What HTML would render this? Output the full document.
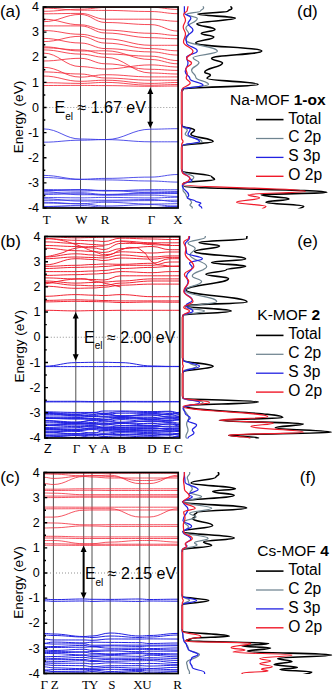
<!DOCTYPE html>
<html><head><meta charset="utf-8"><style>
html,body{margin:0;padding:0;background:#fff;}
svg{display:block;}
</style></head><body>
<svg width="335" height="691" viewBox="0 0 335 691">
<rect width="335" height="691" fill="#fff"/>
<clipPath id="ca"><rect x="43.3" y="7" width="134.8" height="201"/></clipPath>
<g clip-path="url(#ca)">
<line x1="80.5" y1="7" x2="80.5" y2="208" stroke="#505050" stroke-width="1"/>
<line x1="105.5" y1="7" x2="105.5" y2="208" stroke="#505050" stroke-width="1"/>
<line x1="150.8" y1="7" x2="150.8" y2="208" stroke="#505050" stroke-width="1"/>
<line x1="46.3" y1="107.5" x2="178.1" y2="107.5" stroke="#777" stroke-width="0.8" stroke-dasharray="1 2"/>
<g fill="none" stroke="#f42a3a" stroke-width="0.85">
<path d="M43.3 8.1 C58.92 8.1 64.88 10.2 80.5 10.2 C91 10.2 95 10.4 105.5 10.4 C124.53 10.4 131.77 11.5 150.8 11.5 C162.27 11.5 166.63 13.7 178.1 13.7"/>
<path d="M43.3 11.3 C58.92 11.3 64.88 9.2 80.5 9.2 C91 9.2 95 7.5 105.5 7.5 C124.53 7.5 131.77 7.2 150.8 7.2 C162.27 7.2 166.63 9.4 178.1 9.4"/>
<path d="M43.3 13.8 C58.92 13.8 64.88 13.4 80.5 13.4 C91 13.4 95 19.2 105.5 19.2 C124.53 19.2 131.77 19.2 150.8 19.2 C162.27 19.2 166.63 21.3 178.1 21.3"/>
<path d="M43.3 19.2 C58.92 19.2 64.88 24.8 80.5 24.8 C91 24.8 95 30.1 105.5 30.1 C124.53 30.1 131.77 33.3 150.8 33.3 C162.27 33.3 166.63 35.5 178.1 35.5"/>
<path d="M43.3 21.7 C58.92 21.7 64.88 14.4 80.5 14.4 C91 14.4 95 22.5 105.5 22.5 C124.53 22.5 131.77 24.6 150.8 24.6 C162.27 24.6 166.63 31.1 178.1 31.1"/>
<path d="M43.3 25.9 C58.92 25.9 64.88 25.9 80.5 25.9 C91 25.9 95 33 105.5 33 C124.53 33 131.77 37.7 150.8 37.7 C162.27 37.7 166.63 38.8 178.1 38.8"/>
<path d="M43.3 30.5 C58.92 30.5 64.88 34.3 80.5 34.3 C91 34.3 95 38.8 105.5 38.8 C124.53 38.8 131.77 45.3 150.8 45.3 C162.27 45.3 166.63 45.3 178.1 45.3"/>
<path d="M43.3 38.4 C58.92 38.4 64.88 43 80.5 43 C91 43 95 48.6 105.5 48.6 C124.53 48.6 131.77 51.9 150.8 51.9 C162.27 51.9 166.63 55.1 178.1 55.1"/>
<path d="M43.3 41.6 C58.92 41.6 64.88 36.3 80.5 36.3 C91 36.3 95 43.1 105.5 43.1 C124.53 43.1 131.77 48.6 150.8 48.6 C162.27 48.6 166.63 50.8 178.1 50.8"/>
<path d="M43.3 46.8 C58.92 46.8 64.88 51 80.5 51 C91 51 95 50.8 105.5 50.8 C124.53 50.8 131.77 59.5 150.8 59.5 C162.27 59.5 166.63 63.8 178.1 63.8"/>
<path d="M43.3 47.8 C58.92 47.8 64.88 49.9 80.5 49.9 C91 49.9 95 54 105.5 54 C124.53 54 131.77 56.2 150.8 56.2 C162.27 56.2 166.63 60.6 178.1 60.6"/>
<path d="M43.3 49.9 C58.92 49.9 64.88 54.1 80.5 54.1 C91 54.1 95 57.3 105.5 57.3 C124.53 57.3 131.77 73 150.8 73 C162.27 73 166.63 74 178.1 74"/>
<path d="M43.3 53.1 C58.92 53.1 64.88 66.6 80.5 66.6 C91 66.6 95 69 105.5 69 C124.53 69 131.77 64.9 150.8 64.9 C162.27 64.9 166.63 67 178.1 67"/>
<path d="M43.3 61 C58.92 61 64.88 58.3 80.5 58.3 C91 58.3 95 63.8 105.5 63.8 C124.53 63.8 131.77 69.3 150.8 69.3 C162.27 69.3 166.63 70.4 178.1 70.4"/>
<path d="M43.3 67.3 C58.92 67.3 64.88 77.1 80.5 77.1 C91 77.1 95 74.7 105.5 74.7 C124.53 74.7 131.77 76.9 150.8 76.9 C162.27 76.9 166.63 76.9 178.1 76.9"/>
<path d="M43.3 71.9 C58.92 71.9 64.88 74 80.5 74 C91 74 95 78 105.5 78 C124.53 78 131.77 80.2 150.8 80.2 C162.27 80.2 166.63 80.2 178.1 80.2"/>
<path d="M43.3 76 C58.92 76 64.88 81.3 80.5 81.3 C91 81.3 95 80.2 105.5 80.2 C124.53 80.2 131.77 83.4 150.8 83.4 C162.27 83.4 166.63 82.5 178.1 82.5"/>
<path d="M43.3 82.7 C58.92 82.7 64.88 83.4 80.5 83.4 C91 83.4 95 82.4 105.5 82.4 C124.53 82.4 131.77 85.2 150.8 85.2 C162.27 85.2 166.63 84.5 178.1 84.5"/>
<path d="M43.3 85.5 C58.92 85.5 64.88 85.4 80.5 85.4 C91 85.4 95 85.6 105.5 85.6 C124.53 85.6 131.77 86.3 150.8 86.3 C162.27 86.3 166.63 86 178.1 86"/>
</g>
<g fill="none" stroke="#3535e6" stroke-width="0.85">
<path d="M43.3 128.9 C58.92 128.9 64.88 139 80.5 139 C91 139 95 139.6 105.5 139.6 C124.53 139.6 131.77 129.2 150.8 129.2 C162.27 129.2 166.63 128.7 178.1 128.7"/>
<path d="M43.3 142.2 C58.92 142.2 64.88 140.2 80.5 140.2 C91 140.2 95 139.6 105.5 139.6 C124.53 139.6 131.77 141.8 150.8 141.8 C162.27 141.8 166.63 141.8 178.1 141.8"/>
<path d="M43.3 175.4 C58.92 175.4 64.88 179.2 80.5 179.2 C91 179.2 95 178.4 105.5 178.4 C124.53 178.4 131.77 177.1 150.8 177.1 C162.27 177.1 166.63 174.5 178.1 174.5"/>
<path d="M43.3 177.5 C58.92 177.5 64.88 179.5 80.5 179.5 C91 179.5 95 179.9 105.5 179.9 C124.53 179.9 131.77 181 150.8 181 C162.27 181 166.63 182.1 178.1 182.1"/>
<path d="M43.3 189.55 C58.92 189.55 64.88 189.89 80.5 189.89 C91 189.89 95 191.06 105.5 191.06 C124.53 191.06 131.77 189.59 150.8 189.59 C162.27 189.59 166.63 189.73 178.1 189.73"/>
<path d="M43.3 190.78 C58.92 190.78 64.88 189.49 80.5 189.49 C91 189.49 95 190.54 105.5 190.54 C124.53 190.54 131.77 190.92 150.8 190.92 C162.27 190.92 166.63 191.44 178.1 191.44"/>
<path d="M43.3 190.4 C58.92 190.4 64.88 191.07 80.5 191.07 C91 191.07 95 190.39 105.5 190.39 C124.53 190.39 131.77 192.69 150.8 192.69 C162.27 192.69 166.63 192.32 178.1 192.32"/>
<path d="M43.3 191.73 C58.92 191.73 64.88 194.74 80.5 194.74 C91 194.74 95 194.69 105.5 194.69 C124.53 194.69 131.77 193.69 150.8 193.69 C162.27 193.69 166.63 193.57 178.1 193.57"/>
<path d="M43.3 193.2 C58.92 193.2 64.88 192.75 80.5 192.75 C91 192.75 95 194.39 105.5 194.39 C124.53 194.39 131.77 192.89 150.8 192.89 C162.27 192.89 166.63 193.31 178.1 193.31"/>
<path d="M43.3 194.47 C58.92 194.47 64.88 193.8 80.5 193.8 C91 193.8 95 195.18 105.5 195.18 C124.53 195.18 131.77 195.11 150.8 195.11 C162.27 195.11 166.63 196.4 178.1 196.4"/>
<path d="M43.3 197.46 C58.92 197.46 64.88 197.85 80.5 197.85 C91 197.85 95 197.4 105.5 197.4 C124.53 197.4 131.77 197.92 150.8 197.92 C162.27 197.92 166.63 197.26 178.1 197.26"/>
<path d="M43.3 198.79 C58.92 198.79 64.88 201.09 80.5 201.09 C91 201.09 95 201.09 105.5 201.09 C124.53 201.09 131.77 200.59 150.8 200.59 C162.27 200.59 166.63 200.16 178.1 200.16"/>
<path d="M43.3 200.31 C58.92 200.31 64.88 200.03 80.5 200.03 C91 200.03 95 200.22 105.5 200.22 C124.53 200.22 131.77 199.52 150.8 199.52 C162.27 199.52 166.63 201.75 178.1 201.75"/>
<path d="M43.3 202.28 C58.92 202.28 64.88 203.71 80.5 203.71 C91 203.71 95 202.24 105.5 202.24 C124.53 202.24 131.77 204.07 150.8 204.07 C162.27 204.07 166.63 203.71 178.1 203.71"/>
<path d="M43.3 203.1 C58.92 203.1 64.88 203.77 80.5 203.77 C91 203.77 95 206.01 105.5 206.01 C124.53 206.01 131.77 204.6 150.8 204.6 C162.27 204.6 166.63 206.24 178.1 206.24"/>
<path d="M43.3 206.47 C58.92 206.47 64.88 205.43 80.5 205.43 C91 205.43 95 207.21 105.5 207.21 C124.53 207.21 131.77 207.69 150.8 207.69 C162.27 207.69 166.63 206.06 178.1 206.06"/>
<path d="M43.3 206.48 C58.92 206.48 64.88 207.26 80.5 207.26 C91 207.26 95 208.5 105.5 208.5 C124.53 208.5 131.77 208.5 150.8 208.5 C162.27 208.5 166.63 206.58 178.1 206.58"/>
</g>
</g>
<rect x="43.3" y="7" width="134.8" height="201" fill="none" stroke="#000" stroke-width="1.7"/>
<path d="M43.3 7h3.2 M43.3 19.56h2 M43.3 32.12h3.2 M43.3 44.69h2 M43.3 57.25h3.2 M43.3 69.81h2 M43.3 82.38h3.2 M43.3 94.94h2 M43.3 107.5h3.2 M43.3 120.06h2 M43.3 132.62h3.2 M43.3 145.19h2 M43.3 157.75h3.2 M43.3 170.31h2 M43.3 182.88h3.2 M43.3 195.44h2 M43.3 208h3.2" stroke="#000" stroke-width="1.4" fill="none"/>
<text x="39" y="11.2" text-anchor="end" font-family='"Liberation Sans", sans-serif' font-size="12.5">4</text>
<text x="39" y="36.33" text-anchor="end" font-family='"Liberation Sans", sans-serif' font-size="12.5">3</text>
<text x="39" y="61.45" text-anchor="end" font-family='"Liberation Sans", sans-serif' font-size="12.5">2</text>
<text x="39" y="86.58" text-anchor="end" font-family='"Liberation Sans", sans-serif' font-size="12.5">1</text>
<text x="39" y="111.7" text-anchor="end" font-family='"Liberation Sans", sans-serif' font-size="12.5">0</text>
<text x="39" y="136.82" text-anchor="end" font-family='"Liberation Sans", sans-serif' font-size="12.5">-1</text>
<text x="39" y="161.95" text-anchor="end" font-family='"Liberation Sans", sans-serif' font-size="12.5">-2</text>
<text x="39" y="187.07" text-anchor="end" font-family='"Liberation Sans", sans-serif' font-size="12.5">-3</text>
<text x="39" y="212.2" text-anchor="end" font-family='"Liberation Sans", sans-serif' font-size="12.5">-4</text>
<text transform="translate(22.7 117) rotate(-90)" text-anchor="middle" font-family='"Liberation Sans", sans-serif' font-size="13.6">Energy (eV)</text>
<text x="46.7" y="224" text-anchor="middle" font-family='"Liberation Serif", serif' font-size="13">T</text>
<text x="81.4" y="224" text-anchor="middle" font-family='"Liberation Serif", serif' font-size="13">W</text>
<text x="105" y="224" text-anchor="middle" font-family='"Liberation Serif", serif' font-size="13">R</text>
<text x="151.5" y="224" text-anchor="middle" font-family='"Liberation Serif", serif' font-size="13">Γ</text>
<text x="178" y="224" text-anchor="middle" font-family='"Liberation Serif", serif' font-size="13">X</text>
<text x="-0.1" y="17" font-family='"Liberation Sans", sans-serif' font-size="17">(a)</text>
<line x1="150.3" y1="92.4" x2="150.3" y2="123.2" stroke="#000" stroke-width="1.9"/>
<path d="M150.3 87.4 l-3 6.5 h6 z M150.3 128.2 l-3 -6.5 h6 z" fill="#000"/>
<text x="54.5" y="113.3" font-family='"Liberation Sans", sans-serif' font-size="16">E<tspan font-size="10" dy="6.3">el</tspan><tspan dy="-6.3"> ≈ 1.67 eV</tspan></text>
<clipPath id="cb"><rect x="44.8" y="236.5" width="134.9" height="201.5"/></clipPath>
<g clip-path="url(#cb)">
<line x1="75.8" y1="236.5" x2="75.8" y2="438" stroke="#505050" stroke-width="1"/>
<line x1="93.7" y1="236.5" x2="93.7" y2="438" stroke="#505050" stroke-width="1"/>
<line x1="103.8" y1="236.5" x2="103.8" y2="438" stroke="#505050" stroke-width="1"/>
<line x1="120.7" y1="236.5" x2="120.7" y2="438" stroke="#505050" stroke-width="1"/>
<line x1="152.4" y1="236.5" x2="152.4" y2="438" stroke="#505050" stroke-width="1"/>
<line x1="169.9" y1="236.5" x2="169.9" y2="438" stroke="#505050" stroke-width="1"/>
<line x1="47.8" y1="337.25" x2="179.7" y2="337.25" stroke="#777" stroke-width="0.8" stroke-dasharray="1 2"/>
<g fill="none" stroke="#f01a2a" stroke-width="0.95">
<path d="M44.8 236.5 C57.82 236.5 62.78 237.8 75.8 237.8 C83.32 237.8 86.18 237.5 93.7 237.5 C97.94 237.5 99.56 237.2 103.8 237.2 C110.9 237.2 113.6 237.1 120.7 237.1 C134.01 237.1 139.09 237.1 152.4 237.1 C159.75 237.1 162.55 237.1 169.9 237.1 C174.02 237.1 175.58 237.1 179.7 237.1"/>
<path d="M44.8 238.6 C57.82 238.6 62.78 240.3 75.8 240.3 C83.32 240.3 86.18 240.8 93.7 240.8 C97.94 240.8 99.56 241.5 103.8 241.5 C110.9 241.5 113.6 238.2 120.7 238.2 C134.01 238.2 139.09 239 152.4 239 C159.75 239 162.55 239.5 169.9 239.5 C174.02 239.5 175.58 239.5 179.7 239.5"/>
<path d="M44.8 241.9 C57.82 241.9 62.78 243.4 75.8 243.4 C83.32 243.4 86.18 244.5 93.7 244.5 C97.94 244.5 99.56 245.2 103.8 245.2 C110.9 245.2 113.6 241 120.7 241 C134.01 241 139.09 242.8 152.4 242.8 C159.75 242.8 162.55 242.8 169.9 242.8 C174.02 242.8 175.58 242.8 179.7 242.8"/>
<path d="M44.8 245.5 C57.82 245.5 62.78 246.5 75.8 246.5 C83.32 246.5 86.18 248 93.7 248 C97.94 248 99.56 249.5 103.8 249.5 C110.9 249.5 113.6 243.4 120.7 243.4 C134.01 243.4 139.09 243.4 152.4 243.4 C159.75 243.4 162.55 245.5 169.9 245.5 C174.02 245.5 175.58 245.5 179.7 245.5"/>
<path d="M44.8 248.2 C57.82 248.2 62.78 250.7 75.8 250.7 C83.32 250.7 86.18 251.5 93.7 251.5 C97.94 251.5 99.56 252.5 103.8 252.5 C110.9 252.5 113.6 248.6 120.7 248.6 C134.01 248.6 139.09 246.5 152.4 246.5 C159.75 246.5 162.55 249.7 169.9 249.7 C174.02 249.7 175.58 249.7 179.7 249.7"/>
<path d="M44.8 257 C57.82 257 62.78 253.8 75.8 253.8 C83.32 253.8 86.18 255 93.7 255 C97.94 255 99.56 256 103.8 256 C110.9 256 113.6 251.8 120.7 251.8 C134.01 251.8 139.09 253 152.4 253 C159.75 253 162.55 252 169.9 252 C174.02 252 175.58 252 179.7 252"/>
<path d="M44.8 258.7 C57.82 258.7 62.78 257 75.8 257 C83.32 257 86.18 257.5 93.7 257.5 C97.94 257.5 99.56 258 103.8 258 C110.9 258 113.6 255 120.7 255 C134.01 255 139.09 257 152.4 257 C159.75 257 162.55 255.9 169.9 255.9 C174.02 255.9 175.58 255.9 179.7 255.9"/>
<path d="M44.8 264.9 C57.82 264.9 62.78 258.7 75.8 258.7 C83.32 258.7 86.18 259.5 93.7 259.5 C97.94 259.5 99.56 260.5 103.8 260.5 C110.9 260.5 113.6 258 120.7 258 C134.01 258 139.09 259.1 152.4 259.1 C159.75 259.1 162.55 257.4 169.9 257.4 C174.02 257.4 175.58 257.4 179.7 257.4"/>
<path d="M44.8 266.4 C57.82 266.4 62.78 265.3 75.8 265.3 C83.32 265.3 86.18 264.5 93.7 264.5 C97.94 264.5 99.56 264 103.8 264 C110.9 264 113.6 264.3 120.7 264.3 C134.01 264.3 139.09 263.3 152.4 263.3 C159.75 263.3 162.55 258.7 169.9 258.7 C174.02 258.7 175.58 258.7 179.7 258.7"/>
<path d="M44.8 268.5 C57.82 268.5 62.78 267.4 75.8 267.4 C83.32 267.4 86.18 267 93.7 267 C97.94 267 99.56 266.5 103.8 266.5 C110.9 266.5 113.6 265.3 120.7 265.3 C134.01 265.3 139.09 265.3 152.4 265.3 C159.75 265.3 162.55 262 169.9 262 C174.02 262 175.58 262 179.7 262"/>
<path d="M44.8 271.6 C57.82 271.6 62.78 271.6 75.8 271.6 C83.32 271.6 86.18 271 93.7 271 C97.94 271 99.56 270.5 103.8 270.5 C110.9 270.5 113.6 268.5 120.7 268.5 C134.01 268.5 139.09 267.4 152.4 267.4 C159.75 267.4 162.55 266.4 169.9 266.4 C174.02 266.4 175.58 266.4 179.7 266.4"/>
<path d="M44.8 275.4 C57.82 275.4 62.78 274.7 75.8 274.7 C83.32 274.7 86.18 274 93.7 274 C97.94 274 99.56 273.5 103.8 273.5 C110.9 273.5 113.6 271.6 120.7 271.6 C134.01 271.6 139.09 272.7 152.4 272.7 C159.75 272.7 162.55 271.6 169.9 271.6 C174.02 271.6 175.58 271.6 179.7 271.6"/>
<path d="M44.8 277.9 C57.82 277.9 62.78 278.9 75.8 278.9 C83.32 278.9 86.18 279.5 93.7 279.5 C97.94 279.5 99.56 280 103.8 280 C110.9 280 113.6 275.8 120.7 275.8 C134.01 275.8 139.09 275.8 152.4 275.8 C159.75 275.8 162.55 275.8 169.9 275.8 C174.02 275.8 175.58 275.8 179.7 275.8"/>
<path d="M44.8 281 C57.82 281 62.78 283.1 75.8 283.1 C83.32 283.1 86.18 282.5 93.7 282.5 C97.94 282.5 99.56 282 103.8 282 C110.9 282 113.6 281 120.7 281 C134.01 281 139.09 278.9 152.4 278.9 C159.75 278.9 162.55 278.9 169.9 278.9 C174.02 278.9 175.58 278.9 179.7 278.9"/>
<path d="M44.8 282.5 C57.82 282.5 62.78 285.2 75.8 285.2 C83.32 285.2 86.18 285.8 93.7 285.8 C97.94 285.8 99.56 285.5 103.8 285.5 C110.9 285.5 113.6 283.1 120.7 283.1 C134.01 283.1 139.09 281 152.4 281 C159.75 281 162.55 281 169.9 281 C174.02 281 175.58 281 179.7 281"/>
<path d="M44.8 286.2 C57.82 286.2 62.78 288.3 75.8 288.3 C83.32 288.3 86.18 288 93.7 288 C97.94 288 99.56 287.2 103.8 287.2 C110.9 287.2 113.6 285.2 120.7 285.2 C134.01 285.2 139.09 284.1 152.4 284.1 C159.75 284.1 162.55 284.1 169.9 284.1 C174.02 284.1 175.58 284.1 179.7 284.1"/>
<path d="M44.8 296.3 C57.82 296.3 62.78 294.6 75.8 294.6 C83.32 294.6 86.18 295.2 93.7 295.2 C97.94 295.2 99.56 295.5 103.8 295.5 C110.9 295.5 113.6 294.6 120.7 294.6 C134.01 294.6 139.09 296.7 152.4 296.7 C159.75 296.7 162.55 296.7 169.9 296.7 C174.02 296.7 175.58 296.7 179.7 296.7"/>
<path d="M44.8 300.4 C57.82 300.4 62.78 299.8 75.8 299.8 C83.32 299.8 86.18 300.2 93.7 300.2 C97.94 300.2 99.56 300.5 103.8 300.5 C110.9 300.5 113.6 300.9 120.7 300.9 C134.01 300.9 139.09 300.9 152.4 300.9 C159.75 300.9 162.55 300.9 169.9 300.9 C174.02 300.9 175.58 300.9 179.7 300.9"/>
<path d="M44.8 301.9 C57.82 301.9 62.78 301.3 75.8 301.3 C83.32 301.3 86.18 301.6 93.7 301.6 C97.94 301.6 99.56 301.8 103.8 301.8 C110.9 301.8 113.6 302.5 120.7 302.5 C134.01 302.5 139.09 302 152.4 302 C159.75 302 162.55 302.2 169.9 302.2 C174.02 302.2 175.58 302.2 179.7 302.2"/>
<path d="M44.8 310.3 C57.82 310.3 62.78 310.9 75.8 310.9 C83.32 310.9 86.18 310.6 93.7 310.6 C97.94 310.6 99.56 310.5 103.8 310.5 C110.9 310.5 113.6 310.3 120.7 310.3 C134.01 310.3 139.09 310.3 152.4 310.3 C159.75 310.3 162.55 310.3 169.9 310.3 C174.02 310.3 175.58 310.3 179.7 310.3"/>
<path d="M44.8 257 C49.36 255.95 50.7 256.14 60 253.5 C69.3 250.86 65.69 250.3 75.8 248.2 C85.91 246.1 85.3 247.1 93.7 246.5 C102.1 245.9 100.77 246.29 103.8 246.2"/>
<path d="M44.8 239 C48.31 239.15 47.2 237.85 56.5 239.5 C65.8 241.15 64.64 240.9 75.8 244.5 C86.96 248.1 84.04 248.5 93.7 251.5 C103.36 254.5 99.9 254.95 108 254.5 C116.1 254.05 113.5 252.1 120.7 250 C127.9 247.9 125.31 247.05 132 247.5 C138.69 247.95 136.88 247.15 143 251.5 C149.12 255.85 145.8 257.8 152.4 262 C159 266.2 156.81 264.3 165 265.5 C173.19 266.7 175.29 265.85 179.7 266"/>
<path d="M120.7 241.2 C125.29 241.74 126.49 241.95 136 243 C145.51 244.05 142.23 244.19 152.4 244.7 C162.57 245.21 164.65 244.7 169.9 244.7"/>
<path d="M44.8 284 C54.1 282.5 61.13 279.9 75.8 279 C90.47 278.1 85.3 279.8 93.7 281 C102.1 282.2 95.7 281.2 103.8 283 C111.9 284.8 115.63 285.8 120.7 287"/>
</g>
<g fill="none" stroke="#2222e2" stroke-width="1.0">
<path d="M44.8 366.2 C57.82 366.2 62.78 362.6 75.8 362.6 C83.32 362.6 86.18 362.3 93.7 362.3 C97.94 362.3 99.56 362.3 103.8 362.3 C110.9 362.3 113.6 362.6 120.7 362.6 C134.01 362.6 139.09 366 152.4 366 C159.75 366 162.55 366.4 169.9 366.4 C174.02 366.4 175.58 366.4 179.7 366.4"/>
<path d="M44.8 366.6 C57.82 366.6 62.78 366.6 75.8 366.6 C83.32 366.6 86.18 366.6 93.7 366.6 C97.94 366.6 99.56 366.6 103.8 366.6 C110.9 366.6 113.6 366.6 120.7 366.6 C134.01 366.6 139.09 366.6 152.4 366.6 C159.75 366.6 162.55 366.6 169.9 366.6 C174.02 366.6 175.58 366.6 179.7 366.6"/>
<path d="M44.8 401.3 C57.82 401.3 62.78 401.3 75.8 401.3 C83.32 401.3 86.18 401.5 93.7 401.5 C97.94 401.5 99.56 401.5 103.8 401.5 C110.9 401.5 113.6 401.4 120.7 401.4 C134.01 401.4 139.09 401.4 152.4 401.4 C159.75 401.4 162.55 401.5 169.9 401.5 C174.02 401.5 175.58 401.5 179.7 401.5"/>
<path d="M44.8 401.9 C57.82 401.9 62.78 401.9 75.8 401.9 C83.32 401.9 86.18 402 93.7 402 C97.94 402 99.56 402 103.8 402 C110.9 402 113.6 401.9 120.7 401.9 C134.01 401.9 139.09 402 152.4 402 C159.75 402 162.55 401.9 169.9 401.9 C174.02 401.9 175.58 401.9 179.7 401.9"/>
<path d="M44.8 411.86 C57.82 411.86 62.78 412.41 75.8 412.41 C83.32 412.41 86.18 412.43 93.7 412.43 C97.94 412.43 99.56 411 103.8 411 C110.9 411 113.6 411 120.7 411 C134.01 411 139.09 411.56 152.4 411.56 C159.75 411.56 162.55 411.26 169.9 411.26 C174.02 411.26 175.58 412.86 179.7 412.86"/>
<path d="M44.8 413.37 C57.82 413.37 62.78 413.1 75.8 413.1 C83.32 413.1 86.18 412.97 93.7 412.97 C97.94 412.97 99.56 413.28 103.8 413.28 C110.9 413.28 113.6 411.74 120.7 411.74 C134.01 411.74 139.09 412.62 152.4 412.62 C159.75 412.62 162.55 411.79 169.9 411.79 C174.02 411.79 175.58 414.02 179.7 414.02"/>
<path d="M44.8 412.34 C57.82 412.34 62.78 414.62 75.8 414.62 C83.32 414.62 86.18 412.39 93.7 412.39 C97.94 412.39 99.56 414.23 103.8 414.23 C110.9 414.23 113.6 413.18 120.7 413.18 C134.01 413.18 139.09 413.38 152.4 413.38 C159.75 413.38 162.55 414.69 169.9 414.69 C174.02 414.69 175.58 412.22 179.7 412.22"/>
<path d="M44.8 413.22 C57.82 413.22 62.78 415.78 75.8 415.78 C83.32 415.78 86.18 414.56 93.7 414.56 C97.94 414.56 99.56 413.31 103.8 413.31 C110.9 413.31 113.6 415.99 120.7 415.99 C134.01 415.99 139.09 415.87 152.4 415.87 C159.75 415.87 162.55 413.37 169.9 413.37 C174.02 413.37 175.58 414.3 179.7 414.3"/>
<path d="M44.8 414.31 C57.82 414.31 62.78 414.84 75.8 414.84 C83.32 414.84 86.18 415.76 93.7 415.76 C97.94 415.76 99.56 414.39 103.8 414.39 C110.9 414.39 113.6 415.99 120.7 415.99 C134.01 415.99 139.09 414.05 152.4 414.05 C159.75 414.05 162.55 414.41 169.9 414.41 C174.02 414.41 175.58 416.35 179.7 416.35"/>
<path d="M44.8 415.97 C57.82 415.97 62.78 416.02 75.8 416.02 C83.32 416.02 86.18 416.55 93.7 416.55 C97.94 416.55 99.56 416.2 103.8 416.2 C110.9 416.2 113.6 415.92 120.7 415.92 C134.01 415.92 139.09 414.86 152.4 414.86 C159.75 414.86 162.55 416.95 169.9 416.95 C174.02 416.95 175.58 417.67 179.7 417.67"/>
<path d="M44.8 418.56 C57.82 418.56 62.78 417.62 75.8 417.62 C83.32 417.62 86.18 416.7 93.7 416.7 C97.94 416.7 99.56 416.72 103.8 416.72 C110.9 416.72 113.6 417.7 120.7 417.7 C134.01 417.7 139.09 417.65 152.4 417.65 C159.75 417.65 162.55 415.97 169.9 415.97 C174.02 415.97 175.58 416.34 179.7 416.34"/>
<path d="M44.8 417.59 C57.82 417.59 62.78 418.03 75.8 418.03 C83.32 418.03 86.18 418.93 93.7 418.93 C97.94 418.93 99.56 418 103.8 418 C110.9 418 113.6 416.58 120.7 416.58 C134.01 416.58 139.09 418.97 152.4 418.97 C159.75 418.97 162.55 417.79 169.9 417.79 C174.02 417.79 175.58 418.06 179.7 418.06"/>
<path d="M44.8 418.03 C57.82 418.03 62.78 418.65 75.8 418.65 C83.32 418.65 86.18 418.53 93.7 418.53 C97.94 418.53 99.56 419.68 103.8 419.68 C110.9 419.68 113.6 417.67 120.7 417.67 C134.01 417.67 139.09 419.02 152.4 419.02 C159.75 419.02 162.55 417.9 169.9 417.9 C174.02 417.9 175.58 419.45 179.7 419.45"/>
<path d="M44.8 418.34 C57.82 418.34 62.78 419.06 75.8 419.06 C83.32 419.06 86.18 419.27 93.7 419.27 C97.94 419.27 99.56 420.14 103.8 420.14 C110.9 420.14 113.6 418.39 120.7 418.39 C134.01 418.39 139.09 419.61 152.4 419.61 C159.75 419.61 162.55 418.86 169.9 418.86 C174.02 418.86 175.58 419.08 179.7 419.08"/>
<path d="M44.8 420.53 C57.82 420.53 62.78 421.98 75.8 421.98 C83.32 421.98 86.18 420.54 93.7 420.54 C97.94 420.54 99.56 421.97 103.8 421.97 C110.9 421.97 113.6 419.6 120.7 419.6 C134.01 419.6 139.09 421.87 152.4 421.87 C159.75 421.87 162.55 420.19 169.9 420.19 C174.02 420.19 175.58 419.67 179.7 419.67"/>
<path d="M44.8 422.21 C57.82 422.21 62.78 422.7 75.8 422.7 C83.32 422.7 86.18 419.99 93.7 419.99 C97.94 419.99 99.56 420.77 103.8 420.77 C110.9 420.77 113.6 422.28 120.7 422.28 C134.01 422.28 139.09 420.99 152.4 420.99 C159.75 420.99 162.55 420.69 169.9 420.69 C174.02 420.69 175.58 419.99 179.7 419.99"/>
<path d="M44.8 420.95 C57.82 420.95 62.78 422.69 75.8 422.69 C83.32 422.69 86.18 423.78 93.7 423.78 C97.94 423.78 99.56 423.83 103.8 423.83 C110.9 423.83 113.6 422.34 120.7 422.34 C134.01 422.34 139.09 420.91 152.4 420.91 C159.75 420.91 162.55 421.8 169.9 421.8 C174.02 421.8 175.58 423.2 179.7 423.2"/>
<path d="M44.8 424.2 C57.82 424.2 62.78 423.62 75.8 423.62 C83.32 423.62 86.18 422.39 93.7 422.39 C97.94 422.39 99.56 423.28 103.8 423.28 C110.9 423.28 113.6 423.13 120.7 423.13 C134.01 423.13 139.09 423.58 152.4 423.58 C159.75 423.58 162.55 422.49 169.9 422.49 C174.02 422.49 175.58 424.54 179.7 424.54"/>
<path d="M44.8 425.25 C57.82 425.25 62.78 423.05 75.8 423.05 C83.32 423.05 86.18 423.44 93.7 423.44 C97.94 423.44 99.56 425.19 103.8 425.19 C110.9 425.19 113.6 423.4 120.7 423.4 C134.01 423.4 139.09 425.4 152.4 425.4 C159.75 425.4 162.55 424.11 169.9 424.11 C174.02 424.11 175.58 424.65 179.7 424.65"/>
<path d="M44.8 425.55 C57.82 425.55 62.78 424.08 75.8 424.08 C83.32 424.08 86.18 424.29 93.7 424.29 C97.94 424.29 99.56 424.2 103.8 424.2 C110.9 424.2 113.6 425.48 120.7 425.48 C134.01 425.48 139.09 425.52 152.4 425.52 C159.75 425.52 162.55 423.83 169.9 423.83 C174.02 423.83 175.58 426.09 179.7 426.09"/>
<path d="M44.8 425.56 C57.82 425.56 62.78 425.02 75.8 425.02 C83.32 425.02 86.18 425.61 93.7 425.61 C97.94 425.61 99.56 427.24 103.8 427.24 C110.9 427.24 113.6 425.98 120.7 425.98 C134.01 425.98 139.09 426.17 152.4 426.17 C159.75 426.17 162.55 427.06 169.9 427.06 C174.02 427.06 175.58 427.19 179.7 427.19"/>
<path d="M44.8 427.45 C57.82 427.45 62.78 426.42 75.8 426.42 C83.32 426.42 86.18 426.93 93.7 426.93 C97.94 426.93 99.56 427.87 103.8 427.87 C110.9 427.87 113.6 427.53 120.7 427.53 C134.01 427.53 139.09 426.91 152.4 426.91 C159.75 426.91 162.55 426.21 169.9 426.21 C174.02 426.21 175.58 426.27 179.7 426.27"/>
<path d="M44.8 428.24 C57.82 428.24 62.78 427.72 75.8 427.72 C83.32 427.72 86.18 426.08 93.7 426.08 C97.94 426.08 99.56 428.16 103.8 428.16 C110.9 428.16 113.6 428.74 120.7 428.74 C134.01 428.74 139.09 428.43 152.4 428.43 C159.75 428.43 162.55 428.73 169.9 428.73 C174.02 428.73 175.58 428.76 179.7 428.76"/>
<path d="M44.8 428.5 C57.82 428.5 62.78 429.27 75.8 429.27 C83.32 429.27 86.18 428.04 93.7 428.04 C97.94 428.04 99.56 427.19 103.8 427.19 C110.9 427.19 113.6 427.96 120.7 427.96 C134.01 427.96 139.09 427.84 152.4 427.84 C159.75 427.84 162.55 429.7 169.9 429.7 C174.02 429.7 175.58 428.97 179.7 428.97"/>
<path d="M44.8 429.39 C57.82 429.39 62.78 429.63 75.8 429.63 C83.32 429.63 86.18 428.14 93.7 428.14 C97.94 428.14 99.56 429.37 103.8 429.37 C110.9 429.37 113.6 429.87 120.7 429.87 C134.01 429.87 139.09 428.95 152.4 428.95 C159.75 428.95 162.55 428.5 169.9 428.5 C174.02 428.5 175.58 428.99 179.7 428.99"/>
<path d="M44.8 429.6 C57.82 429.6 62.78 430.69 75.8 430.69 C83.32 430.69 86.18 429.06 93.7 429.06 C97.94 429.06 99.56 428.9 103.8 428.9 C110.9 428.9 113.6 429.57 120.7 429.57 C134.01 429.57 139.09 430.72 152.4 430.72 C159.75 430.72 162.55 430.91 169.9 430.91 C174.02 430.91 175.58 430.61 179.7 430.61"/>
<path d="M44.8 432.3 C57.82 432.3 62.78 430.6 75.8 430.6 C83.32 430.6 86.18 429.59 93.7 429.59 C97.94 429.59 99.56 430.96 103.8 430.96 C110.9 430.96 113.6 430.83 120.7 430.83 C134.01 430.83 139.09 430.04 152.4 430.04 C159.75 430.04 162.55 431.5 169.9 431.5 C174.02 431.5 175.58 430.52 179.7 430.52"/>
<path d="M44.8 431.08 C57.82 431.08 62.78 431.35 75.8 431.35 C83.32 431.35 86.18 433.2 93.7 433.2 C97.94 433.2 99.56 430.39 103.8 430.39 C110.9 430.39 113.6 431.45 120.7 431.45 C134.01 431.45 139.09 431.21 152.4 431.21 C159.75 431.21 162.55 430.97 169.9 430.97 C174.02 430.97 175.58 431.66 179.7 431.66"/>
<path d="M44.8 431.89 C57.82 431.89 62.78 433.99 75.8 433.99 C83.32 433.99 86.18 432.74 93.7 432.74 C97.94 432.74 99.56 433.33 103.8 433.33 C110.9 433.33 113.6 431.72 120.7 431.72 C134.01 431.72 139.09 432.63 152.4 432.63 C159.75 432.63 162.55 433.05 169.9 433.05 C174.02 433.05 175.58 433.76 179.7 433.76"/>
<path d="M44.8 432.85 C57.82 432.85 62.78 433.48 75.8 433.48 C83.32 433.48 86.18 434.66 93.7 434.66 C97.94 434.66 99.56 434.6 103.8 434.6 C110.9 434.6 113.6 432.78 120.7 432.78 C134.01 432.78 139.09 433.71 152.4 433.71 C159.75 433.71 162.55 434.38 169.9 434.38 C174.02 434.38 175.58 433.29 179.7 433.29"/>
<path d="M44.8 434.99 C57.82 434.99 62.78 434.96 75.8 434.96 C83.32 434.96 86.18 435.88 93.7 435.88 C97.94 435.88 99.56 434.63 103.8 434.63 C110.9 434.63 113.6 435.01 120.7 435.01 C134.01 435.01 139.09 434.02 152.4 434.02 C159.75 434.02 162.55 435.16 169.9 435.16 C174.02 435.16 175.58 433.93 179.7 433.93"/>
<path d="M44.8 435.33 C57.82 435.33 62.78 434.92 75.8 434.92 C83.32 434.92 86.18 434.75 93.7 434.75 C97.94 434.75 99.56 434.24 103.8 434.24 C110.9 434.24 113.6 434.51 120.7 434.51 C134.01 434.51 139.09 435.47 152.4 435.47 C159.75 435.47 162.55 434.59 169.9 434.59 C174.02 434.59 175.58 433.97 179.7 433.97"/>
<path d="M44.8 437.11 C57.82 437.11 62.78 435.56 75.8 435.56 C83.32 435.56 86.18 437.51 93.7 437.51 C97.94 437.51 99.56 436.5 103.8 436.5 C110.9 436.5 113.6 435.87 120.7 435.87 C134.01 435.87 139.09 437.32 152.4 437.32 C159.75 437.32 162.55 437.39 169.9 437.39 C174.02 437.39 175.58 435.66 179.7 435.66"/>
<path d="M44.8 435.94 C57.82 435.94 62.78 437.49 75.8 437.49 C83.32 437.49 86.18 438.09 93.7 438.09 C97.94 438.09 99.56 437.39 103.8 437.39 C110.9 437.39 113.6 437.92 120.7 437.92 C134.01 437.92 139.09 436.8 152.4 436.8 C159.75 436.8 162.55 437.42 169.9 437.42 C174.02 437.42 175.58 436.36 179.7 436.36"/>
</g>
</g>
<rect x="44.8" y="236.5" width="134.9" height="201.5" fill="none" stroke="#000" stroke-width="1.7"/>
<path d="M44.8 236.5h3.2 M44.8 249.09h2 M44.8 261.69h3.2 M44.8 274.28h2 M44.8 286.88h3.2 M44.8 299.47h2 M44.8 312.06h3.2 M44.8 324.66h2 M44.8 337.25h3.2 M44.8 349.84h2 M44.8 362.44h3.2 M44.8 375.03h2 M44.8 387.62h3.2 M44.8 400.22h2 M44.8 412.81h3.2 M44.8 425.41h2 M44.8 438h3.2" stroke="#000" stroke-width="1.4" fill="none"/>
<text x="40.5" y="240.7" text-anchor="end" font-family='"Liberation Sans", sans-serif' font-size="12.5">4</text>
<text x="40.5" y="265.89" text-anchor="end" font-family='"Liberation Sans", sans-serif' font-size="12.5">3</text>
<text x="40.5" y="291.07" text-anchor="end" font-family='"Liberation Sans", sans-serif' font-size="12.5">2</text>
<text x="40.5" y="316.26" text-anchor="end" font-family='"Liberation Sans", sans-serif' font-size="12.5">1</text>
<text x="40.5" y="341.45" text-anchor="end" font-family='"Liberation Sans", sans-serif' font-size="12.5">0</text>
<text x="40.5" y="366.64" text-anchor="end" font-family='"Liberation Sans", sans-serif' font-size="12.5">-1</text>
<text x="40.5" y="391.82" text-anchor="end" font-family='"Liberation Sans", sans-serif' font-size="12.5">-2</text>
<text x="40.5" y="417.01" text-anchor="end" font-family='"Liberation Sans", sans-serif' font-size="12.5">-3</text>
<text x="40.5" y="442.2" text-anchor="end" font-family='"Liberation Sans", sans-serif' font-size="12.5">-4</text>
<text transform="translate(24.3 346.3) rotate(-90)" text-anchor="middle" font-family='"Liberation Sans", sans-serif' font-size="13.6">Energy (eV)</text>
<text x="47.9" y="452.6" text-anchor="middle" font-family='"Liberation Sans", sans-serif' font-size="12.5">Z</text>
<text x="76.5" y="452.6" text-anchor="middle" font-family='"Liberation Serif", serif' font-size="13">Γ</text>
<text x="92.6" y="452.6" text-anchor="middle" font-family='"Liberation Serif", serif' font-size="13">Y</text>
<text x="105" y="452.6" text-anchor="middle" font-family='"Liberation Serif", serif' font-size="13">A</text>
<text x="121.9" y="452.6" text-anchor="middle" font-family='"Liberation Serif", serif' font-size="13">B</text>
<text x="152" y="452.6" text-anchor="middle" font-family='"Liberation Serif", serif' font-size="13">D</text>
<text x="167" y="452.6" text-anchor="middle" font-family='"Liberation Serif", serif' font-size="13">E</text>
<text x="178.6" y="452.6" text-anchor="middle" font-family='"Liberation Serif", serif' font-size="13">C</text>
<text x="0.2" y="247" font-family='"Liberation Sans", sans-serif' font-size="17">(b)</text>
<line x1="75.7" y1="317.1" x2="75.7" y2="355.8" stroke="#000" stroke-width="1.9"/>
<path d="M75.7 312.1 l-3 6.5 h6 z M75.7 360.8 l-3 -6.5 h6 z" fill="#000"/>
<text x="84.1" y="342.5" font-family='"Liberation Sans", sans-serif' font-size="16">E<tspan font-size="10" dy="6.3">el</tspan><tspan dy="-6.3"> ≈ 2.00 eV</tspan></text>
<clipPath id="cc"><rect x="44" y="472.5" width="134.2" height="201"/></clipPath>
<g clip-path="url(#cc)">
<line x1="53.4" y1="472.5" x2="53.4" y2="673.5" stroke="#505050" stroke-width="1"/>
<line x1="83.7" y1="472.5" x2="83.7" y2="673.5" stroke="#505050" stroke-width="1"/>
<line x1="92" y1="472.5" x2="92" y2="673.5" stroke="#505050" stroke-width="1"/>
<line x1="110.2" y1="472.5" x2="110.2" y2="673.5" stroke="#505050" stroke-width="1"/>
<line x1="139.8" y1="472.5" x2="139.8" y2="673.5" stroke="#505050" stroke-width="1"/>
<line x1="149.2" y1="472.5" x2="149.2" y2="673.5" stroke="#505050" stroke-width="1"/>
<line x1="47" y1="573" x2="178.2" y2="573" stroke="#777" stroke-width="0.8" stroke-dasharray="1 2"/>
<g fill="none" stroke="#f32a3a" stroke-width="0.8">
<path d="M44 473.3 C47.95 473.3 49.45 473.3 53.4 473.3 C66.13 473.3 70.97 473.3 83.7 473.3 C87.19 473.3 88.51 473.3 92 473.3 C99.64 473.3 102.56 473.3 110.2 473.3 C122.63 473.3 127.37 473.3 139.8 473.3 C143.75 473.3 145.25 473.3 149.2 473.3 C161.38 473.3 166.02 473.3 178.2 473.3"/>
<path d="M44 473.9 C47.95 473.9 49.45 474.2 53.4 474.2 C66.13 474.2 70.97 475.9 83.7 475.9 C87.19 475.9 88.51 475.9 92 475.9 C99.64 475.9 102.56 475.2 110.2 475.2 C122.63 475.2 127.37 483.6 139.8 483.6 C143.75 483.6 145.25 483.6 149.2 483.6 C161.38 483.6 166.02 475.2 178.2 475.2"/>
<path d="M44 477.3 C47.95 477.3 49.45 478.4 53.4 478.4 C66.13 478.4 70.97 475.9 83.7 475.9 C87.19 475.9 88.51 475.5 92 475.5 C99.64 475.5 102.56 476.5 110.2 476.5 C122.63 476.5 127.37 480.5 139.8 480.5 C143.75 480.5 145.25 480.5 149.2 480.5 C161.38 480.5 166.02 476.5 178.2 476.5"/>
<path d="M44 483.6 C47.95 483.6 49.45 484.5 53.4 484.5 C66.13 484.5 70.97 476.5 83.7 476.5 C87.19 476.5 88.51 477 92 477 C99.64 477 102.56 478 110.2 478 C122.63 478 127.37 478 139.8 478 C143.75 478 145.25 478 149.2 478 C161.38 478 166.02 478 178.2 478"/>
<path d="M44 489.2 C47.95 489.2 49.45 489.2 53.4 489.2 C66.13 489.2 70.97 488.8 83.7 488.8 C87.19 488.8 88.51 488.8 92 488.8 C99.64 488.8 102.56 488.8 110.2 488.8 C122.63 488.8 127.37 488.8 139.8 488.8 C143.75 488.8 145.25 488.8 149.2 488.8 C161.38 488.8 166.02 488.8 178.2 488.8"/>
<path d="M44 490.5 C47.95 490.5 49.45 490.5 53.4 490.5 C66.13 490.5 70.97 490.3 83.7 490.3 C87.19 490.3 88.51 490.3 92 490.3 C99.64 490.3 102.56 490.5 110.2 490.5 C122.63 490.5 127.37 490.5 139.8 490.5 C143.75 490.5 145.25 490.5 149.2 490.5 C161.38 490.5 166.02 490.5 178.2 490.5"/>
<path d="M44 493 C47.95 493 49.45 493.2 53.4 493.2 C66.13 493.2 70.97 494.7 83.7 494.7 C87.19 494.7 88.51 494.7 92 494.7 C99.64 494.7 102.56 494.7 110.2 494.7 C122.63 494.7 127.37 494.7 139.8 494.7 C143.75 494.7 145.25 494.7 149.2 494.7 C161.38 494.7 166.02 494.7 178.2 494.7"/>
<path d="M44 496.1 C47.95 496.1 49.45 496.1 53.4 496.1 C66.13 496.1 70.97 496.1 83.7 496.1 C87.19 496.1 88.51 496.1 92 496.1 C99.64 496.1 102.56 496.1 110.2 496.1 C122.63 496.1 127.37 496.1 139.8 496.1 C143.75 496.1 145.25 496.1 149.2 496.1 C161.38 496.1 166.02 496.1 178.2 496.1"/>
<path d="M44 497.6 C47.95 497.6 49.45 497.6 53.4 497.6 C66.13 497.6 70.97 497.2 83.7 497.2 C87.19 497.2 88.51 497.2 92 497.2 C99.64 497.2 102.56 497.2 110.2 497.2 C122.63 497.2 127.37 497.2 139.8 497.2 C143.75 497.2 145.25 497.2 149.2 497.2 C161.38 497.2 166.02 497.2 178.2 497.2"/>
<path d="M44 507.1 C47.95 507.1 49.45 507.1 53.4 507.1 C66.13 507.1 70.97 507.2 83.7 507.2 C87.19 507.2 88.51 507.2 92 507.2 C99.64 507.2 102.56 507.2 110.2 507.2 C122.63 507.2 127.37 507.2 139.8 507.2 C143.75 507.2 145.25 507.2 149.2 507.2 C161.38 507.2 166.02 507.2 178.2 507.2"/>
<path d="M44 508.8 C47.95 508.8 49.45 508.8 53.4 508.8 C66.13 508.8 70.97 508.7 83.7 508.7 C87.19 508.7 88.51 508.7 92 508.7 C99.64 508.7 102.56 508.7 110.2 508.7 C122.63 508.7 127.37 517 139.8 517 C143.75 517 145.25 517 149.2 517 C161.38 517 166.02 508.7 178.2 508.7"/>
<path d="M44 517.1 C47.95 517.1 49.45 517.1 53.4 517.1 C66.13 517.1 70.97 510.2 83.7 510.2 C87.19 510.2 88.51 510 92 510 C99.64 510 102.56 510 110.2 510 C122.63 510 127.37 510 139.8 510 C143.75 510 145.25 510 149.2 510 C161.38 510 166.02 510 178.2 510"/>
<path d="M44 522.8 C47.95 522.8 49.45 523 53.4 523 C66.13 523 70.97 524.8 83.7 524.8 C87.19 524.8 88.51 524.8 92 524.8 C99.64 524.8 102.56 524.7 110.2 524.7 C122.63 524.7 127.37 524.7 139.8 524.7 C143.75 524.7 145.25 524.7 149.2 524.7 C161.38 524.7 166.02 524.7 178.2 524.7"/>
<path d="M44 528 C47.95 528 49.45 527.8 53.4 527.8 C66.13 527.8 70.97 525.9 83.7 525.9 C87.19 525.9 88.51 526 92 526 C99.64 526 102.56 526.4 110.2 526.4 C122.63 526.4 127.37 526.4 139.8 526.4 C143.75 526.4 145.25 526.4 149.2 526.4 C161.38 526.4 166.02 526.4 178.2 526.4"/>
<path d="M44 536.3 C47.95 536.3 49.45 536.3 53.4 536.3 C66.13 536.3 70.97 536.9 83.7 536.9 C87.19 536.9 88.51 536.9 92 536.9 C99.64 536.9 102.56 536.9 110.2 536.9 C122.63 536.9 127.37 536.9 139.8 536.9 C143.75 536.9 145.25 536.9 149.2 536.9 C161.38 536.9 166.02 536.9 178.2 536.9"/>
<path d="M44 538 C47.95 538 49.45 538 53.4 538 C66.13 538 70.97 538.5 83.7 538.5 C87.19 538.5 88.51 538.5 92 538.5 C99.64 538.5 102.56 538.5 110.2 538.5 C122.63 538.5 127.37 538.5 139.8 538.5 C143.75 538.5 145.25 538.5 149.2 538.5 C161.38 538.5 166.02 538.5 178.2 538.5"/>
<path d="M44 540.5 C47.95 540.5 49.45 540.5 53.4 540.5 C66.13 540.5 70.97 543.7 83.7 543.7 C87.19 543.7 88.51 543.7 92 543.7 C99.64 543.7 102.56 542.1 110.2 542.1 C122.63 542.1 127.37 540.5 139.8 540.5 C143.75 540.5 145.25 540.5 149.2 540.5 C161.38 540.5 166.02 542.1 178.2 542.1"/>
<path d="M44 543.7 C47.95 543.7 49.45 543.8 53.4 543.8 C66.13 543.8 70.97 544.3 83.7 544.3 C87.19 544.3 88.51 544.3 92 544.3 C99.64 544.3 102.56 544.2 110.2 544.2 C122.63 544.2 127.37 544.2 139.8 544.2 C143.75 544.2 145.25 544.2 149.2 544.2 C161.38 544.2 166.02 544.2 178.2 544.2"/>
<path d="M44 545.2 C47.95 545.2 49.45 545.2 53.4 545.2 C66.13 545.2 70.97 545.4 83.7 545.4 C87.19 545.4 88.51 545.4 92 545.4 C99.64 545.4 102.56 545.3 110.2 545.3 C122.63 545.3 127.37 545.3 139.8 545.3 C143.75 545.3 145.25 545.3 149.2 545.3 C161.38 545.3 166.02 545.3 178.2 545.3"/>
</g>
<g fill="none" stroke="#2222e2" stroke-width="1.0">
<path d="M44 599.2 C47.95 599.2 49.45 599.6 53.4 599.6 C66.13 599.6 70.97 599 83.7 599 C87.19 599 88.51 599.3 92 599.3 C99.64 599.3 102.56 599.4 110.2 599.4 C122.63 599.4 127.37 599 139.8 599 C143.75 599 145.25 599.5 149.2 599.5 C161.38 599.5 166.02 599.2 178.2 599.2"/>
<path d="M44 600.8 C47.95 600.8 49.45 601.3 53.4 601.3 C66.13 601.3 70.97 601 83.7 601 C87.19 601 88.51 601.4 92 601.4 C99.64 601.4 102.56 601 110.2 601 C122.63 601 127.37 601.4 139.8 601.4 C143.75 601.4 145.25 601 149.2 601 C161.38 601 166.02 601.2 178.2 601.2"/>
<path d="M44 633.4 C47.95 633.4 49.45 634 53.4 634 C66.13 634 70.97 636.5 83.7 636.5 C87.19 636.5 88.51 636 92 636 C99.64 636 102.56 633 110.2 633 C122.63 633 127.37 636 139.8 636 C143.75 636 145.25 635.5 149.2 635.5 C161.38 635.5 166.02 633.4 178.2 633.4"/>
<path d="M44 635 C47.95 635 49.45 635.5 53.4 635.5 C66.13 635.5 70.97 637 83.7 637 C87.19 637 88.51 637.5 92 637.5 C99.64 637.5 102.56 636 110.2 636 C122.63 636 127.37 637.5 139.8 637.5 C143.75 637.5 145.25 637 149.2 637 C161.38 637 166.02 635 178.2 635"/>
<path d="M44 639.12 C47.95 639.12 49.45 639.97 53.4 639.97 C66.13 639.97 70.97 639.97 83.7 639.97 C87.19 639.97 88.51 640.3 92 640.3 C99.64 640.3 102.56 638.97 110.2 638.97 C122.63 638.97 127.37 639.06 139.8 639.06 C143.75 639.06 145.25 638.89 149.2 638.89 C161.38 638.89 166.02 639.05 178.2 639.05"/>
<path d="M44 643.27 C47.95 643.27 49.45 642.06 53.4 642.06 C66.13 642.06 70.97 642.86 83.7 642.86 C87.19 642.86 88.51 642.23 92 642.23 C99.64 642.23 102.56 642.39 110.2 642.39 C122.63 642.39 127.37 642.66 139.8 642.66 C143.75 642.66 145.25 643.48 149.2 643.48 C161.38 643.48 166.02 643.02 178.2 643.02"/>
<path d="M44 643.53 C47.95 643.53 49.45 644.05 53.4 644.05 C66.13 644.05 70.97 643.79 83.7 643.79 C87.19 643.79 88.51 645.24 92 645.24 C99.64 645.24 102.56 645.12 110.2 645.12 C122.63 645.12 127.37 645.11 139.8 645.11 C143.75 645.11 145.25 645.15 149.2 645.15 C161.38 645.15 166.02 644.99 178.2 644.99"/>
<path d="M44 646.8 C47.95 646.8 49.45 646.49 53.4 646.49 C66.13 646.49 70.97 645.41 83.7 645.41 C87.19 645.41 88.51 646.6 92 646.6 C99.64 646.6 102.56 645.87 110.2 645.87 C122.63 645.87 127.37 646.41 139.8 646.41 C143.75 646.41 145.25 646.03 149.2 646.03 C161.38 646.03 166.02 645.76 178.2 645.76"/>
<path d="M44 647.33 C47.95 647.33 49.45 647.46 53.4 647.46 C66.13 647.46 70.97 647.23 83.7 647.23 C87.19 647.23 88.51 646.83 92 646.83 C99.64 646.83 102.56 648.24 110.2 648.24 C122.63 648.24 127.37 648.2 139.8 648.2 C143.75 648.2 145.25 648.57 149.2 648.57 C161.38 648.57 166.02 647.98 178.2 647.98"/>
<path d="M44 650.11 C47.95 650.11 49.45 650.5 53.4 650.5 C66.13 650.5 70.97 649.27 83.7 649.27 C87.19 649.27 88.51 650.35 92 650.35 C99.64 650.35 102.56 649.89 110.2 649.89 C122.63 649.89 127.37 649.35 139.8 649.35 C143.75 649.35 145.25 649.41 149.2 649.41 C161.38 649.41 166.02 650.05 178.2 650.05"/>
<path d="M44 651.21 C47.95 651.21 49.45 651.62 53.4 651.62 C66.13 651.62 70.97 651.91 83.7 651.91 C87.19 651.91 88.51 651.49 92 651.49 C99.64 651.49 102.56 650.96 110.2 650.96 C122.63 650.96 127.37 651.68 139.8 651.68 C143.75 651.68 145.25 651.17 149.2 651.17 C161.38 651.17 166.02 651.17 178.2 651.17"/>
<path d="M44 652.39 C47.95 652.39 49.45 652.73 53.4 652.73 C66.13 652.73 70.97 652.15 83.7 652.15 C87.19 652.15 88.51 653.3 92 653.3 C99.64 653.3 102.56 653.91 110.2 653.91 C122.63 653.91 127.37 652.78 139.8 652.78 C143.75 652.78 145.25 653.44 149.2 653.44 C161.38 653.44 166.02 653.87 178.2 653.87"/>
<path d="M44 653.39 C47.95 653.39 49.45 653.58 53.4 653.58 C66.13 653.58 70.97 654.91 83.7 654.91 C87.19 654.91 88.51 654.98 92 654.98 C99.64 654.98 102.56 654.58 110.2 654.58 C122.63 654.58 127.37 653.62 139.8 653.62 C143.75 653.62 145.25 654.13 149.2 654.13 C161.38 654.13 166.02 655.04 178.2 655.04"/>
<path d="M44 656.67 C47.95 656.67 49.45 656.51 53.4 656.51 C66.13 656.51 70.97 655.31 83.7 655.31 C87.19 655.31 88.51 656.61 92 656.61 C99.64 656.61 102.56 655.65 110.2 655.65 C122.63 655.65 127.37 656.33 139.8 656.33 C143.75 656.33 145.25 655.17 149.2 655.17 C161.38 655.17 166.02 656.84 178.2 656.84"/>
<path d="M44 658.21 C47.95 658.21 49.45 658.45 53.4 658.45 C66.13 658.45 70.97 657.42 83.7 657.42 C87.19 657.42 88.51 658.23 92 658.23 C99.64 658.23 102.56 658.16 110.2 658.16 C122.63 658.16 127.37 658.18 139.8 658.18 C143.75 658.18 145.25 657.72 149.2 657.72 C161.38 657.72 166.02 658.46 178.2 658.46"/>
<path d="M44 659.78 C47.95 659.78 49.45 659.69 53.4 659.69 C66.13 659.69 70.97 659.43 83.7 659.43 C87.19 659.43 88.51 660.47 92 660.47 C99.64 660.47 102.56 659.32 110.2 659.32 C122.63 659.32 127.37 659.55 139.8 659.55 C143.75 659.55 145.25 659.24 149.2 659.24 C161.38 659.24 166.02 660.39 178.2 660.39"/>
<path d="M44 661.71 C47.95 661.71 49.45 661.69 53.4 661.69 C66.13 661.69 70.97 660.68 83.7 660.68 C87.19 660.68 88.51 661.48 92 661.48 C99.64 661.48 102.56 661.29 110.2 661.29 C122.63 661.29 127.37 660.79 139.8 660.79 C143.75 660.79 145.25 660.61 149.2 660.61 C161.38 660.61 166.02 662.6 178.2 662.6"/>
<path d="M44 662.94 C47.95 662.94 49.45 663.3 53.4 663.3 C66.13 663.3 70.97 663.24 83.7 663.24 C87.19 663.24 88.51 663.89 92 663.89 C99.64 663.89 102.56 662.85 110.2 662.85 C122.63 662.85 127.37 663.64 139.8 663.64 C143.75 663.64 145.25 663.43 149.2 663.43 C161.38 663.43 166.02 664.37 178.2 664.37"/>
<path d="M44 664.71 C47.95 664.71 49.45 665.37 53.4 665.37 C66.13 665.37 70.97 665.69 83.7 665.69 C87.19 665.69 88.51 666.64 92 666.64 C99.64 666.64 102.56 665.73 110.2 665.73 C122.63 665.73 127.37 665.65 139.8 665.65 C143.75 665.65 145.25 666.04 149.2 666.04 C161.38 666.04 166.02 665.29 178.2 665.29"/>
<path d="M44 666.86 C47.95 666.86 49.45 667.8 53.4 667.8 C66.13 667.8 70.97 668.62 83.7 668.62 C87.19 668.62 88.51 668.28 92 668.28 C99.64 668.28 102.56 667.32 110.2 667.32 C122.63 667.32 127.37 668.17 139.8 668.17 C143.75 668.17 145.25 668.5 149.2 668.5 C161.38 668.5 166.02 667.32 178.2 667.32"/>
<path d="M44 670.08 C47.95 670.08 49.45 669.61 53.4 669.61 C66.13 669.61 70.97 669.39 83.7 669.39 C87.19 669.39 88.51 669.47 92 669.47 C99.64 669.47 102.56 669.31 110.2 669.31 C122.63 669.31 127.37 669.6 139.8 669.6 C143.75 669.6 145.25 668.98 149.2 668.98 C161.38 668.98 166.02 669.7 178.2 669.7"/>
<path d="M44 670.17 C47.95 670.17 49.45 671.52 53.4 671.52 C66.13 671.52 70.97 671.2 83.7 671.2 C87.19 671.2 88.51 670.01 92 670.01 C99.64 670.01 102.56 671.55 110.2 671.55 C122.63 671.55 127.37 670.38 139.8 670.38 C143.75 670.38 145.25 670.96 149.2 670.96 C161.38 670.96 166.02 671.11 178.2 671.11"/>
<path d="M44 671.97 C47.95 671.97 49.45 671.88 53.4 671.88 C66.13 671.88 70.97 672.17 83.7 672.17 C87.19 672.17 88.51 671.57 92 671.57 C99.64 671.57 102.56 673.03 110.2 673.03 C122.63 673.03 127.37 671.52 139.8 671.52 C143.75 671.52 145.25 672.95 149.2 672.95 C161.38 672.95 166.02 671.74 178.2 671.74"/>
</g>
</g>
<rect x="44" y="472.5" width="134.2" height="201" fill="none" stroke="#000" stroke-width="1.7"/>
<path d="M44 472.5h3.2 M44 485.06h2 M44 497.62h3.2 M44 510.19h2 M44 522.75h3.2 M44 535.31h2 M44 547.88h3.2 M44 560.44h2 M44 573h3.2 M44 585.56h2 M44 598.12h3.2 M44 610.69h2 M44 623.25h3.2 M44 635.81h2 M44 648.38h3.2 M44 660.94h2 M44 673.5h3.2" stroke="#000" stroke-width="1.4" fill="none"/>
<text x="39.7" y="476.7" text-anchor="end" font-family='"Liberation Sans", sans-serif' font-size="12.5">4</text>
<text x="39.7" y="501.82" text-anchor="end" font-family='"Liberation Sans", sans-serif' font-size="12.5">3</text>
<text x="39.7" y="526.95" text-anchor="end" font-family='"Liberation Sans", sans-serif' font-size="12.5">2</text>
<text x="39.7" y="552.08" text-anchor="end" font-family='"Liberation Sans", sans-serif' font-size="12.5">1</text>
<text x="39.7" y="577.2" text-anchor="end" font-family='"Liberation Sans", sans-serif' font-size="12.5">0</text>
<text x="39.7" y="602.33" text-anchor="end" font-family='"Liberation Sans", sans-serif' font-size="12.5">-1</text>
<text x="39.7" y="627.45" text-anchor="end" font-family='"Liberation Sans", sans-serif' font-size="12.5">-2</text>
<text x="39.7" y="652.58" text-anchor="end" font-family='"Liberation Sans", sans-serif' font-size="12.5">-3</text>
<text x="39.7" y="677.7" text-anchor="end" font-family='"Liberation Sans", sans-serif' font-size="12.5">-4</text>
<text transform="translate(23.4 582.5) rotate(-90)" text-anchor="middle" font-family='"Liberation Sans", sans-serif' font-size="13.6">Energy (eV)</text>
<text x="44.3" y="688.5" text-anchor="middle" font-family='"Liberation Serif", serif' font-size="13">Γ</text>
<text x="54.8" y="688.5" text-anchor="middle" font-family='"Liberation Serif", serif' font-size="13">Z</text>
<text x="86.1" y="688.5" text-anchor="middle" font-family='"Liberation Serif", serif' font-size="13">T</text>
<text x="93.8" y="688.5" text-anchor="middle" font-family='"Liberation Serif", serif' font-size="13">Y</text>
<text x="111.8" y="688.5" text-anchor="middle" font-family='"Liberation Serif", serif' font-size="13">S</text>
<text x="138" y="688.5" text-anchor="middle" font-family='"Liberation Serif", serif' font-size="13">X</text>
<text x="147" y="688.5" text-anchor="middle" font-family='"Liberation Serif", serif' font-size="13">U</text>
<text x="177.5" y="688.5" text-anchor="middle" font-family='"Liberation Serif", serif' font-size="13">R</text>
<text x="0.2" y="482.8" font-family='"Liberation Sans", sans-serif' font-size="17">(c)</text>
<line x1="83.6" y1="550.4" x2="83.6" y2="593.9" stroke="#000" stroke-width="1.9"/>
<path d="M83.6 545.4 l-3 6.5 h6 z M83.6 598.9 l-3 -6.5 h6 z" fill="#000"/>
<text x="84.9" y="579.2" font-family='"Liberation Sans", sans-serif' font-size="16">E<tspan font-size="10" dy="6.3">el</tspan><tspan dy="-6.3"> ≈ 2.15 eV</tspan></text>
<clipPath id="dcd"><rect x="179" y="6.3" width="160" height="202.3"/></clipPath>
<g clip-path="url(#dcd)">
<path d="M230.8 6 C230.8 7.08 231.8 7.32 231.8 8.4 C231.8 9.71 228 10 228 11.3 C228 12.56 197.9 12.84 197.9 14.1 C197.9 15.9 235.4 16.3 235.4 18.1 C235.4 20.67 196.8 21.23 196.8 23.8 C196.8 26.37 215 26.93 215 29.5 C215 31.34 201.3 31.76 201.3 33.6 C201.3 35.13 213.8 35.47 213.8 37 C213.8 39.74 195.7 40.36 195.7 43.1 C195.7 46.66 261.8 47.45 261.8 51 C261.8 54.38 211.6 55.12 211.6 58.5 C211.6 60.52 222.5 60.98 222.5 63 C222.5 67.14 204.7 68.06 204.7 72.2 C204.7 73.42 210.4 73.69 210.4 74.9 C210.4 76.43 207 76.77 207 78.3 C207 81.05 258.1 81.66 258.1 84.4 C258.1 86.61 183 87.09 183 89.3 C183 90.52 181.7 90.78 181.7 92 C181.7 106.4 181.7 109.6 181.7 124 C181.7 124.77 182.3 124.94 182.3 125.7 C182.3 127.64 194.5 128.06 194.5 130 C194.5 131.94 190.9 132.37 190.9 134.3 C190.9 137.54 213.1 138.26 213.1 141.5 C213.1 143.44 182.3 143.87 182.3 145.8 C182.3 146.79 181.7 147.01 181.7 148 C181.7 157.45 181.7 159.55 181.7 169 C181.7 169.85 182.3 170.05 182.3 170.9 C182.3 173.47 211.7 174.03 211.7 176.6 C211.7 177.91 214.5 178.19 214.5 179.5 C214.5 181.07 183.7 181.43 183.7 183 C183.7 184.35 183 184.65 183 186 C183 188.88 326.8 189.52 326.8 192.4 C326.8 193.48 261.1 193.72 261.1 194.8 C261.1 196.69 289 197.11 289 199 C289 200.49 266 200.81 266 202.3 C266 204.1 303.8 204.5 303.8 206.3 C303.8 207.74 298 208.06 298 209.5" fill="none" stroke="#000" stroke-width="1.6" stroke-linejoin="round"/>
<path d="M203.2 6 C203.2 6.86 203.6 7.04 203.6 7.9 C203.6 9.29 200.6 9.61 200.6 11 C200.6 12.48 186.6 12.82 186.6 14.3 C186.6 16.23 197.3 16.67 197.3 18.6 C197.3 22.79 185.9 23.71 185.9 27.9 C185.9 30.51 188.7 31.09 188.7 33.7 C188.7 36.58 185.9 37.22 185.9 40.1 C185.9 45.14 217.4 46.26 217.4 51.3 C217.4 54.22 193 54.88 193 57.8 C193 59.96 199 60.44 199 62.6 C199 66.02 191.6 66.78 191.6 70.2 C191.6 73.44 195.9 74.16 195.9 77.4 C195.9 80.59 208.5 81.31 208.5 84.5 C208.5 86.66 182.3 87.14 182.3 89.3 C182.3 90.52 181.7 90.78 181.7 92 C181.7 106.4 181.7 109.6 181.7 124 C181.7 125.03 182.3 125.27 182.3 126.3 C182.3 127.97 187.3 128.34 187.3 130 C187.3 131.94 185.2 132.37 185.2 134.3 C185.2 137.54 202 138.26 202 141.5 C202 143.3 182.3 143.7 182.3 145.5 C182.3 146.62 181.7 146.88 181.7 148 C181.7 157.45 181.7 159.55 181.7 169 C181.7 169.9 182.3 170.1 182.3 171 C182.3 173.84 193.8 174.47 193.8 177.3 C193.8 178.74 192 179.06 192 180.5 C192 182.07 183.7 182.43 183.7 184 C183.7 186.7 183 187.3 183 190 C183 192.25 186 192.75 186 195 C186 198.33 191.6 199.07 191.6 202.4 C191.6 203.57 190 203.83 190 205 C190 206.08 192.3 206.32 192.3 207.4 C192.3 208.34 192 208.56 192 209.5" fill="none" stroke="#6f8490" stroke-width="1.25" stroke-linejoin="round"/>
<path d="M184.4 6 C184.4 9.11 184.4 9.79 184.4 12.9 C184.4 15.15 190.9 15.65 190.9 17.9 C190.9 20.46 188 21.04 188 23.6 C188 26.53 193 27.18 193 30.1 C193 33.66 185.9 34.45 185.9 38 C185.9 40.25 186.6 40.75 186.6 43 C186.6 46.55 197.3 47.34 197.3 50.9 C197.3 53.78 186.6 54.42 186.6 57.3 C186.6 59.86 188 60.44 188 63 C188 66.87 185.2 67.73 185.2 71.6 C185.2 74.93 190 75.67 190 79 C190 81.83 203.1 82.47 203.1 85.3 C203.1 87.1 182.2 87.5 182.2 89.3 C182.2 90.52 181.7 90.78 181.7 92 C181.7 106.4 181.7 109.6 181.7 124 C181.7 124.9 182.3 125.1 182.3 126 C182.3 127.48 190.2 127.82 190.2 129.3 C190.2 131.55 188 132.05 188 134.3 C188 137.54 199.5 138.26 199.5 141.5 C199.5 143.3 182.3 143.7 182.3 145.5 C182.3 146.62 181.7 146.88 181.7 148 C181.7 157.45 181.7 159.55 181.7 169 C181.7 170.12 182.3 170.38 182.3 171.5 C182.3 174.43 189.5 175.07 189.5 178 C189.5 178.99 191.6 179.21 191.6 180.2 C191.6 182.13 183 182.56 183 184.5 C183 185.18 182.3 185.32 182.3 186 C182.3 190.14 188.7 191.06 188.7 195.2 C188.7 196.5 187.3 196.79 187.3 198.1 C187.3 199.41 195.2 199.69 195.2 201 C195.2 201.94 200.9 202.16 200.9 203.1 C200.9 203.95 199 204.15 199 205 C199 206.08 201.6 206.32 201.6 207.4 C201.6 208.34 202 208.56 202 209.5" fill="none" stroke="#2222e2" stroke-width="1.25" stroke-linejoin="round"/>
<path d="M188 6 C188 7.89 187.3 8.31 187.3 10.2 C187.3 12.04 183.7 12.46 183.7 14.3 C183.7 16.87 185.5 17.43 185.5 20 C185.5 23.15 183.2 23.85 183.2 27 C183.2 30.15 185.5 30.85 185.5 34 C185.5 37.6 183.5 38.4 183.5 42 C183.5 46.32 193 47.28 193 51.6 C193 54.8 186.6 55.51 186.6 58.7 C186.6 60.64 191.6 61.06 191.6 63 C191.6 65.61 185.9 66.19 185.9 68.8 C185.9 71.14 187.2 71.66 187.2 74 C187.2 75.8 186.2 76.2 186.2 78 C186.2 80.3 190.2 80.8 190.2 83.1 C190.2 85.89 182.2 86.51 182.2 89.3 C182.2 90.52 181.7 90.78 181.7 92 C181.7 112.92 181.7 117.58 181.7 138.5 C181.7 139.85 183 140.15 183 141.5 C183 142.85 181.7 143.15 181.7 144.5 C181.7 155.97 181.7 158.53 181.7 170 C181.7 171.03 182.3 171.27 182.3 172.3 C182.3 174.96 190 175.54 190 178.2 C190 179.01 189 179.19 189 180 C189 182.03 182.3 182.47 182.3 184.5 C182.3 187.51 305.5 188.19 305.5 191.2 C305.5 192.82 248 193.18 248 194.8 C248 196.24 259.5 196.56 259.5 198 C259.5 199.94 236.5 200.37 236.5 202.3 C236.5 204.1 266 204.5 266 206.3 C266 207.74 262 208.06 262 209.5" fill="none" stroke="#f01a2a" stroke-width="1.25" stroke-linejoin="round"/>
<line x1="181.7" y1="91.5" x2="181.7" y2="124.5" stroke="#f5404c" stroke-width="1.75"/>
<line x1="181.7" y1="146.5" x2="181.7" y2="169.5" stroke="#f5404c" stroke-width="1.75"/>
</g>
<text x="230" y="104.9" font-family='"Liberation Sans", sans-serif' font-size="15.5">Na-MOF <tspan font-weight="bold">1-ox</tspan></text>
<line x1="256" y1="119.6" x2="283.5" y2="119.6" stroke="#000" stroke-width="1.6"/>
<text x="288.3" y="123.5" font-family='"Liberation Sans", sans-serif' font-size="15.6">Total</text>
<line x1="256" y1="138.5" x2="283.5" y2="138.5" stroke="#6f8490" stroke-width="1.25"/>
<text x="288.3" y="142.4" font-family='"Liberation Sans", sans-serif' font-size="15.6">C 2p</text>
<line x1="256" y1="157.4" x2="283.5" y2="157.4" stroke="#2222e2" stroke-width="1.3"/>
<text x="288.3" y="161.3" font-family='"Liberation Sans", sans-serif' font-size="15.6">S 3p</text>
<line x1="256" y1="176.3" x2="283.5" y2="176.3" stroke="#f01a2a" stroke-width="1.4"/>
<text x="288.3" y="180.2" font-family='"Liberation Sans", sans-serif' font-size="15.6">O 2p</text>
<text x="297" y="16.8" font-family='"Liberation Sans", sans-serif' font-size="17">(d)</text>
<clipPath id="dce"><rect x="179" y="236" width="160" height="202.6"/></clipPath>
<g clip-path="url(#dce)">
<path d="M247 235.5 C247 236.9 246.7 237.2 246.7 238.6 C246.7 240.35 199.1 240.75 199.1 242.5 C199.1 244.03 219.5 244.37 219.5 245.9 C219.5 248.47 194.5 249.03 194.5 251.6 C194.5 254.93 245.6 255.67 245.6 259 C245.6 260.53 211.6 260.87 211.6 262.4 C211.6 264.15 245.6 264.55 245.6 266.3 C245.6 267.83 226.3 268.17 226.3 269.7 C226.3 271.72 205.9 272.18 205.9 274.2 C205.9 276.13 228.5 276.56 228.5 278.5 C228.5 283.72 186 284.88 186 290.1 C186 295.46 247 296.64 247 302 C247 303.71 185.2 304.09 185.2 305.8 C185.2 308.14 231.2 308.66 231.2 311 C231.2 313.02 182.8 313.48 182.8 315.5 C182.8 316.62 182.6 316.88 182.6 318 C182.6 335.77 182.6 339.73 182.6 357.5 C182.6 358.58 183 358.82 183 359.9 C183 362.78 213.1 363.42 213.1 366.3 C213.1 368.91 183 369.49 183 372.1 C183 372.96 182.6 373.14 182.6 374 C182.6 383.68 182.6 385.82 182.6 395.5 C182.6 396.58 183 396.82 183 397.9 C183 399.75 258.5 400.15 258.5 402 C258.5 403.8 185 404.2 185 406 C185 411.22 282.8 412.38 282.8 417.6 C282.8 418.81 219.3 419.09 219.3 420.3 C219.3 421.97 303.3 422.33 303.3 424 C303.3 425.67 275.3 426.03 275.3 427.7 C275.3 429.72 331.3 430.18 331.3 432.2 C331.3 433.55 228.7 433.85 228.7 435.2 C228.7 436.37 258.5 436.63 258.5 437.8 C258.5 438.79 255 439.01 255 440" fill="none" stroke="#000" stroke-width="1.6" stroke-linejoin="round"/>
<path d="M205.5 235.5 C205.5 236.26 205.2 236.44 205.2 237.2 C205.2 239.76 188 240.34 188 242.9 C188 245.47 195.2 246.03 195.2 248.6 C195.2 251.48 190 252.12 190 255 C190 260.18 206.7 261.32 206.7 266.5 C206.7 270.73 192.3 271.67 192.3 275.9 C192.3 278.46 201.6 279.04 201.6 281.6 C201.6 285.47 185.2 286.33 185.2 290.2 C185.2 295.33 216.7 296.47 216.7 301.6 C216.7 304.21 185.2 304.79 185.2 307.4 C185.2 309.02 204.5 309.38 204.5 311 C204.5 313.02 182.8 313.48 182.8 315.5 C182.8 316.62 182.6 316.88 182.6 318 C182.6 335.77 182.6 339.73 182.6 357.5 C182.6 358.71 183 358.99 183 360.2 C183 361.69 190.2 362.01 190.2 363.5 C190.2 364.76 196.6 365.04 196.6 366.3 C196.6 368.69 183 369.22 183 371.6 C183 372.68 182.6 372.92 182.6 374 C182.6 383.9 182.6 386.1 182.6 396 C182.6 397.12 183 397.38 183 398.5 C183 400.25 203 400.64 203 402.4 C203 404.92 183.7 405.48 183.7 408 C183.7 412.45 188.7 413.44 188.7 417.9 C188.7 420.64 186.6 421.25 186.6 424 C186.6 426.7 188 427.3 188 430 C188 432.93 185.9 433.57 185.9 436.5 C185.9 438.07 187 438.43 187 440" fill="none" stroke="#6f8490" stroke-width="1.25" stroke-linejoin="round"/>
<path d="M189.5 235.5 C189.5 236.58 189.5 236.82 189.5 237.9 C189.5 240.78 185.2 241.42 185.2 244.3 C185.2 248.17 186.6 249.03 186.6 252.9 C186.6 255.51 202.4 256.09 202.4 258.7 C202.4 260.63 189.5 261.06 189.5 263 C189.5 264.94 192.3 265.37 192.3 267.3 C192.3 271.17 186.6 272.03 186.6 275.9 C186.6 278.64 188 279.25 188 282 C188 286.32 184.4 287.28 184.4 291.6 C184.4 295.47 192.3 296.33 192.3 300.2 C192.3 302.58 186 303.12 186 305.5 C186 308.06 193 308.63 193 311.2 C193 313.13 182.8 313.56 182.8 315.5 C182.8 316.62 182.6 316.88 182.6 318 C182.6 335.77 182.6 339.73 182.6 357.5 C182.6 358.58 183 358.82 183 359.9 C183 362.78 199.5 363.42 199.5 366.3 C199.5 368.78 183 369.32 183 371.8 C183 372.79 182.6 373.01 182.6 374 C182.6 383.9 182.6 386.1 182.6 396 C182.6 396.9 183 397.1 183 398 C183 399.98 199.5 400.42 199.5 402.4 C199.5 404.88 183 405.42 183 407.9 C183 410.46 185.2 411.04 185.2 413.6 C185.2 415.54 190.2 415.96 190.2 417.9 C190.2 419.2 188 419.5 188 420.8 C188 422.74 196.6 423.17 196.6 425.1 C196.6 427.35 192.3 427.85 192.3 430.1 C192.3 431.41 194 431.69 194 433 C194 435.25 188 435.75 188 438 C188 438.9 187 439.1 187 440" fill="none" stroke="#2222e2" stroke-width="1.25" stroke-linejoin="round"/>
<path d="M189 235.5 C189 236.58 188.7 236.82 188.7 237.9 C188.7 239.84 183.7 240.26 183.7 242.2 C183.7 244.81 186 245.39 186 248 C186 250.52 185.2 251.08 185.2 253.6 C185.2 259.4 193.8 260.69 193.8 266.5 C193.8 270.06 184.4 270.84 184.4 274.4 C184.4 277.64 188.7 278.36 188.7 281.6 C188.7 285.79 183.7 286.71 183.7 290.9 C183.7 295.71 193 296.79 193 301.6 C193 304.21 183.7 304.79 183.7 307.4 C183.7 309.02 189.5 309.38 189.5 311 C189.5 313.02 182.8 313.48 182.8 315.5 C182.8 316.62 182.6 316.88 182.6 318 C182.6 338.7 182.6 343.3 182.6 364 C182.6 365.04 183.3 365.26 183.3 366.3 C183.3 367.29 182.6 367.51 182.6 368.5 C182.6 380.88 182.6 383.62 182.6 396 C182.6 396.9 183 397.1 183 398 C183 399.98 209.5 400.42 209.5 402.4 C209.5 404.2 183 404.6 183 406.4 C183 411.08 267.8 412.12 267.8 416.8 C267.8 418.38 219.3 418.73 219.3 420.3 C219.3 421.47 273.4 421.73 273.4 422.9 C273.4 424.56 251 424.94 251 426.6 C251 429.12 303.3 429.68 303.3 432.2 C303.3 433.55 228.7 433.85 228.7 435.2 C228.7 436.46 250 436.74 250 438 C250 438.9 248 439.1 248 440" fill="none" stroke="#f01a2a" stroke-width="1.25" stroke-linejoin="round"/>
<line x1="182.6" y1="317" x2="182.6" y2="358" stroke="#f5404c" stroke-width="1.75"/>
<line x1="182.6" y1="373" x2="182.6" y2="396.5" stroke="#f5404c" stroke-width="1.75"/>
</g>
<text x="257.3" y="320.3" font-family='"Liberation Sans", sans-serif' font-size="15.5">K-MOF <tspan font-weight="bold">2</tspan></text>
<line x1="256" y1="335.4" x2="283.5" y2="335.4" stroke="#000" stroke-width="1.6"/>
<text x="288.3" y="339.3" font-family='"Liberation Sans", sans-serif' font-size="15.6">Total</text>
<line x1="256" y1="354.3" x2="283.5" y2="354.3" stroke="#6f8490" stroke-width="1.25"/>
<text x="288.3" y="358.2" font-family='"Liberation Sans", sans-serif' font-size="15.6">C 2p</text>
<line x1="256" y1="373.2" x2="283.5" y2="373.2" stroke="#2222e2" stroke-width="1.3"/>
<text x="288.3" y="377.1" font-family='"Liberation Sans", sans-serif' font-size="15.6">S 3p</text>
<line x1="256" y1="392.1" x2="283.5" y2="392.1" stroke="#f01a2a" stroke-width="1.4"/>
<text x="288.3" y="396" font-family='"Liberation Sans", sans-serif' font-size="15.6">O 2p</text>
<text x="297.2" y="247.1" font-family='"Liberation Sans", sans-serif' font-size="17">(e)</text>
<clipPath id="dcf"><rect x="179" y="472" width="160" height="202.1"/></clipPath>
<g clip-path="url(#dcf)">
<path d="M218.2 471.5 C218.2 472.71 218.8 472.99 218.8 474.2 C218.8 475.46 216 475.74 216 477 C216 479.7 191.1 480.3 191.1 483 C191.1 485.56 235.4 486.13 235.4 488.7 C235.4 489.91 212.7 490.19 212.7 491.4 C212.7 493.15 234.2 493.55 234.2 495.3 C234.2 498.23 182.6 498.88 182.6 501.8 C182.6 504.59 246.7 505.21 246.7 508 C246.7 510.02 196.8 510.48 196.8 512.5 C196.8 513.62 194 513.88 194 515 C194 515.9 195.5 516.1 195.5 517 C195.5 517.67 192.3 517.83 192.3 518.5 C192.3 521.61 212.7 522.29 212.7 525.4 C212.7 528.14 183 528.75 183 531.5 C183 534.47 234.2 535.13 234.2 538.1 C234.2 539.86 203.6 540.25 203.6 542 C203.6 543.53 211.6 543.87 211.6 545.4 C211.6 547.38 182.5 547.82 182.5 549.8 C182.5 551.24 182.3 551.56 182.3 553 C182.3 571.23 182.3 575.27 182.3 593.5 C182.3 594.76 182.4 595.04 182.4 596.3 C182.4 598.24 208.8 598.66 208.8 600.6 C208.8 602.53 182.4 602.97 182.4 604.9 C182.4 605.85 182.3 606.05 182.3 607 C182.3 616.45 182.3 618.55 182.3 628 C182.3 629.35 182.4 629.65 182.4 631 C182.4 633.34 229.3 633.86 229.3 636.2 C229.3 637.19 191.6 637.41 191.6 638.4 C191.6 639.35 186 639.55 186 640.5 C186 641.85 268.8 642.15 268.8 643.5 C268.8 644.62 241.9 644.88 241.9 646 C241.9 646.9 270.6 647.1 270.6 648 C270.6 649.49 247.3 649.81 247.3 651.3 C247.3 652.96 331.5 653.34 331.5 655 C331.5 656.58 277.7 656.92 277.7 658.5 C277.7 659.85 292 660.15 292 661.5 C292 662.89 274.1 663.21 274.1 664.6 C274.1 665.86 297.4 666.14 297.4 667.4 C297.4 668.35 280 668.55 280 669.5 C280 670.62 311.8 670.88 311.8 672 C311.8 673.8 300 674.2 300 676" fill="none" stroke="#000" stroke-width="1.6" stroke-linejoin="round"/>
<path d="M189.5 471.5 C189.5 472.26 189.8 472.44 189.8 473.2 C189.8 475.13 187.3 475.56 187.3 477.5 C187.3 479.52 188.5 479.98 188.5 482 C188.5 485.11 192.3 485.79 192.3 488.9 C192.3 490.52 190 490.88 190 492.5 C190 494.44 201.6 494.87 201.6 496.8 C201.6 499.05 183 499.55 183 501.8 C183 504.73 211.7 505.38 211.7 508.3 C211.7 510.55 189.5 511.05 189.5 513.3 C189.5 514.92 195.9 515.28 195.9 516.9 C195.9 519.19 184 519.71 184 522 C184 524.25 188.5 524.75 188.5 527 C188.5 529.21 183 529.69 183 531.9 C183 534.82 208.1 535.48 208.1 538.4 C208.1 540.34 194.5 540.76 194.5 542.7 C194.5 543.74 197 543.97 197 545 C197 547.16 182.3 547.64 182.3 549.8 C182.3 569.46 182.3 573.84 182.3 593.5 C182.3 594.85 182.4 595.15 182.4 596.5 C182.4 598.16 189.5 598.54 189.5 600.2 C189.5 602.09 182.4 602.51 182.4 604.4 C182.4 605.57 182.3 605.83 182.3 607 C182.3 617.35 182.3 619.65 182.3 630 C182.3 633.15 183 633.85 183 637 C183 642.67 188.7 643.93 188.7 649.6 C188.7 651.85 199.5 652.35 199.5 654.6 C199.5 658.15 186.6 658.95 186.6 662.5 C186.6 664.52 187.5 664.98 187.5 667 C187.5 669.48 189.5 670.02 189.5 672.5 C189.5 674.08 189 674.42 189 676" fill="none" stroke="#6f8490" stroke-width="1.25" stroke-linejoin="round"/>
<path d="M184.4 471.5 C184.4 472.58 184.4 472.82 184.4 473.9 C184.4 477.54 185 478.36 185 482 C185 485.42 198.1 486.18 198.1 489.6 C198.1 491.89 188.7 492.41 188.7 494.7 C188.7 495.64 192.3 495.86 192.3 496.8 C192.3 499.05 183 499.55 183 501.8 C183 505.04 188 505.76 188 509 C188 514.13 183 515.27 183 520.4 C183 523.01 191.6 523.59 191.6 526.2 C191.6 528.76 183 529.34 183 531.9 C183 535.14 190.9 535.86 190.9 539.1 C190.9 541.31 185.5 541.79 185.5 544 C185.5 544.9 187 545.1 187 546 C187 547.71 182.3 548.09 182.3 549.8 C182.3 569.46 182.3 573.84 182.3 593.5 C182.3 594.76 182.4 595.04 182.4 596.3 C182.4 598.24 196.6 598.66 196.6 600.6 C196.6 602.4 182.4 602.8 182.4 604.6 C182.4 605.68 182.3 605.92 182.3 607 C182.3 617.35 182.3 619.65 182.3 630 C182.3 633.01 183 633.69 183 636.7 C183 638.32 183.7 638.68 183.7 640.3 C183.7 642.55 186.6 643.05 186.6 645.3 C186.6 646.96 188 647.34 188 649 C188 651.52 198.1 652.08 198.1 654.6 C198.1 656.22 191.6 656.58 191.6 658.2 C191.6 659.91 190 660.29 190 662 C190 664.48 192.3 665.02 192.3 667.5 C192.3 669.75 204.5 670.25 204.5 672.5 C204.5 674.08 205 674.42 205 676" fill="none" stroke="#2222e2" stroke-width="1.25" stroke-linejoin="round"/>
<path d="M184.4 471.5 C184.4 472.58 184.4 472.82 184.4 473.9 C184.4 476.64 183.5 477.25 183.5 480 C183.5 484 184.4 484.89 184.4 488.9 C184.4 492.14 189.5 492.86 189.5 496.1 C189.5 498.67 183 499.24 183 501.8 C183 504.73 195.2 505.38 195.2 508.3 C195.2 509.92 183.7 510.28 183.7 511.9 C183.7 514.64 185 515.25 185 518 C185 521.15 183.3 521.85 183.3 525 C183.3 528.11 183.7 528.79 183.7 531.9 C183.7 534.82 192.3 535.48 192.3 538.4 C192.3 540.97 185.2 541.53 185.2 544.1 C185.2 545.18 186.5 545.42 186.5 546.5 C186.5 547.99 182.3 548.31 182.3 549.8 C182.3 571.49 182.3 576.31 182.3 598 C182.3 599.17 183.3 599.43 183.3 600.6 C183.3 601.68 182.3 601.92 182.3 603 C182.3 614.25 182.3 616.75 182.3 628 C182.3 629.58 182.5 629.92 182.5 631.5 C182.5 633.71 200.9 634.19 200.9 636.4 C200.9 637.84 188 638.16 188 639.6 C188 640.32 185 640.48 185 641.2 C185 642.1 250.8 642.3 250.8 643.2 C250.8 645.23 231.1 645.68 231.1 647.7 C231.1 648.74 245 648.97 245 650 C245 650.9 233 651.1 233 652 C233 653.35 292 653.65 292 655 C292 656.58 259.8 656.92 259.8 658.5 C259.8 659.62 270.6 659.88 270.6 661 C270.6 662.26 259.8 662.54 259.8 663.8 C259.8 665.11 272.3 665.39 272.3 666.7 C272.3 667.83 261.6 668.08 261.6 669.2 C261.6 670.01 268 670.19 268 671 C268 671.9 241.9 672.1 241.9 673 C241.9 674.35 245 674.65 245 676" fill="none" stroke="#f01a2a" stroke-width="1.25" stroke-linejoin="round"/>
<line x1="182.3" y1="552" x2="182.3" y2="594.5" stroke="#f5404c" stroke-width="1.75"/>
<line x1="182.3" y1="606" x2="182.3" y2="629" stroke="#f5404c" stroke-width="1.75"/>
</g>
<text x="257.3" y="556.3" font-family='"Liberation Sans", sans-serif' font-size="15.5">Cs-MOF <tspan font-weight="bold">4</tspan></text>
<line x1="256" y1="571.1" x2="283.5" y2="571.1" stroke="#000" stroke-width="1.6"/>
<text x="288.3" y="575" font-family='"Liberation Sans", sans-serif' font-size="15.6">Total</text>
<line x1="256" y1="590" x2="283.5" y2="590" stroke="#6f8490" stroke-width="1.25"/>
<text x="288.3" y="593.9" font-family='"Liberation Sans", sans-serif' font-size="15.6">C 2p</text>
<line x1="256" y1="608.9" x2="283.5" y2="608.9" stroke="#2222e2" stroke-width="1.3"/>
<text x="288.3" y="612.8" font-family='"Liberation Sans", sans-serif' font-size="15.6">S 3p</text>
<line x1="256" y1="627.8" x2="283.5" y2="627.8" stroke="#f01a2a" stroke-width="1.4"/>
<text x="288.3" y="631.7" font-family='"Liberation Sans", sans-serif' font-size="15.6">O 2p</text>
<text x="299.8" y="482.8" font-family='"Liberation Sans", sans-serif' font-size="17">(f)</text>
</svg>
</body></html>
